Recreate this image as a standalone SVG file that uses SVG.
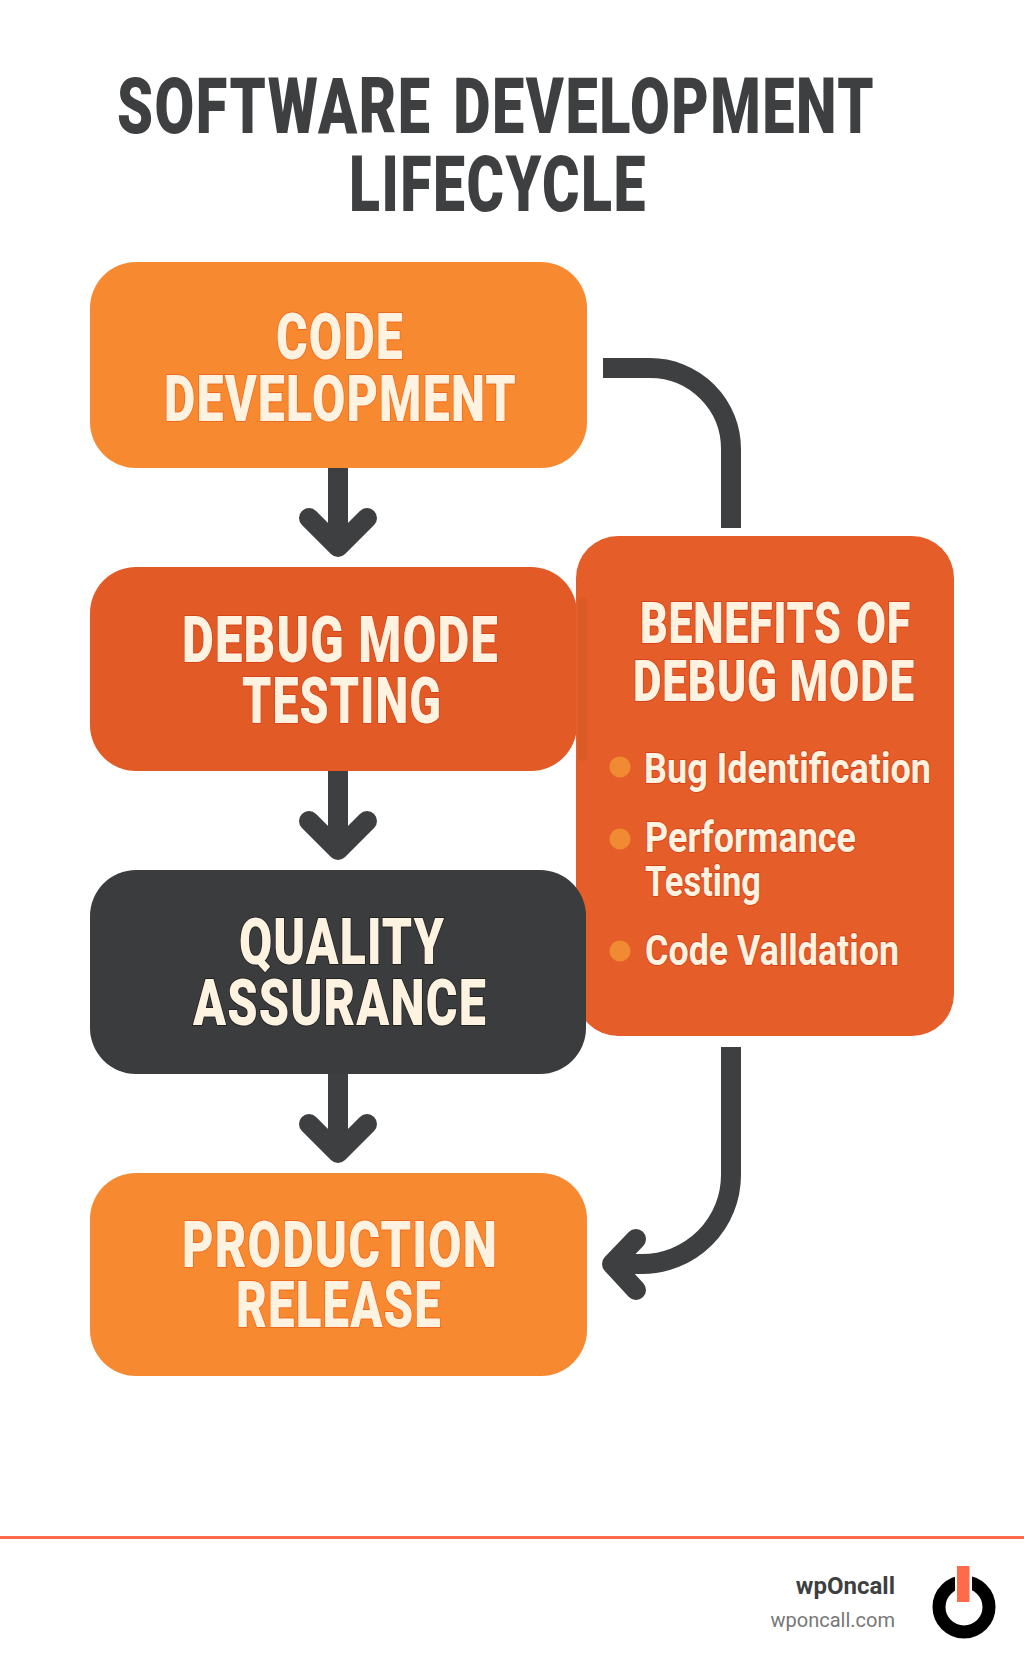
<svg xmlns="http://www.w3.org/2000/svg" width="1024" height="1666" viewBox="0 0 1024 1666">
<style>
text{font-family:"Roboto","Liberation Sans",sans-serif}
.t{font-size:77px;font-weight:900;fill:#3e3f40;letter-spacing:2px}
.h{font-size:64px;font-weight:900;fill:#fdf3e0;stroke-width:2;paint-order:stroke;letter-spacing:1.5px}
.o{stroke:#f2691d}
.r{stroke:#d8431a}
.d{stroke:#222}
.b{font-size:57px;font-weight:900;fill:#fdf3e0;stroke:#d8431a;stroke-width:2;paint-order:stroke;letter-spacing:1px}
.l{font-size:43px;font-weight:700;fill:#fdf3e0;stroke:#d8431a;stroke-width:2;paint-order:stroke}
.c{fill:none;stroke:#3e3f40;stroke-width:20}
.a{stroke-linecap:round;stroke-linejoin:round}
.dot{fill:#f08a33}
</style>
<rect width="1024" height="1666" fill="#fff"/>
<g id="title">
<text class="t" x="117" y="133" textLength="758" lengthAdjust="spacingAndGlyphs" word-spacing="8">SOFTWARE DEVELOPMENT</text>
<text class="t" x="349" y="211" textLength="298" lengthAdjust="spacingAndGlyphs">LIFECYCLE</text>
</g>
<g id="connectors">
<path class="c" d="M338 467V540"/><path class="c a" d="M309 518L338 547L367 518"/>
<path class="c" d="M338 770V843"/><path class="c a" d="M309 821L338 850L367 821"/>
<path class="c" d="M338 1073V1146"/><path class="c a" d="M309 1124L338 1153L367 1124"/>
<path class="c" d="M603 368H650A81 81 0 0 1 731 449V528"/>
<path class="c" d="M731 1047V1175A89 89 0 0 1 642 1264H616"/><path class="c a" d="M636 1239L612 1264L636 1290"/>
</g>
<g id="code-development">
<rect x="90" y="262" width="497" height="206" rx="46" fill="#f78a31"/>
<text class="h o" x="276" y="359" textLength="128" lengthAdjust="spacingAndGlyphs">CODE</text>
<text class="h o" x="164" y="421" textLength="353" lengthAdjust="spacingAndGlyphs">DEVELOPMENT</text>
</g>
<g id="debug-mode-testing">
<rect x="90" y="567" width="487" height="204" rx="46" fill="#e25b27"/>
<text class="h r" x="182" y="662" textLength="317" lengthAdjust="spacingAndGlyphs">DEBUG MODE</text>
<text class="h r" x="242" y="723" textLength="200" lengthAdjust="spacingAndGlyphs">TESTING</text>
</g>
<g id="benefits">
<rect x="576" y="536" width="378" height="500" rx="42" fill="#e55e2a"/>
<rect x="578" y="597" width="9" height="164" rx="4" fill="#dc5a27"/>
<text class="b" x="640" y="643" textLength="271" lengthAdjust="spacingAndGlyphs" word-spacing="4">BENEFITS OF</text>
<text class="b" x="633" y="701" textLength="282" lengthAdjust="spacingAndGlyphs">DEBUG MODE</text>
<circle class="dot" cx="620" cy="767" r="10.5"/>
<text class="l" x="644" y="783" textLength="287" lengthAdjust="spacingAndGlyphs">Bug Identification</text>
<circle class="dot" cx="620" cy="839" r="10.5"/>
<text class="l" x="645" y="852" textLength="211" lengthAdjust="spacingAndGlyphs">Performance</text>
<text class="l" x="645" y="896" textLength="116" lengthAdjust="spacingAndGlyphs">Testing</text>
<circle class="dot" cx="620" cy="951" r="10.5"/>
<text class="l" x="645" y="965" textLength="254" lengthAdjust="spacingAndGlyphs">Code Valldation</text>
</g>
<g id="quality-assurance">
<rect x="90" y="870" width="496" height="204" rx="46" fill="#3a3c3e"/>
<text class="h d" x="239" y="964" textLength="206" lengthAdjust="spacingAndGlyphs">QUALITY</text>
<text class="h d" x="193" y="1025" textLength="294" lengthAdjust="spacingAndGlyphs">ASSURANCE</text>
</g>
<g id="production-release">
<rect x="90" y="1173" width="497" height="203" rx="46" fill="#f78a31"/>
<text class="h o" x="182" y="1267" textLength="316" lengthAdjust="spacingAndGlyphs">PRODUCTION</text>
<text class="h o" x="236" y="1327" textLength="206" lengthAdjust="spacingAndGlyphs">RELEASE</text>
</g>
<g id="footer">
<rect x="0" y="1536" width="1024" height="3" fill="#ff6b4a"/>
<text x="895" y="1594" text-anchor="end" font-size="24" font-weight="700" fill="#3e3f40">wpOncall</text>
<text x="895" y="1627" text-anchor="end" font-size="20" fill="#777">wponcall.com</text>
<circle cx="964" cy="1607" r="25" fill="none" stroke="#000" stroke-width="13"/>
<rect x="955" y="1566" width="17" height="38" fill="#fff"/>
<rect x="957" y="1566" width="12.5" height="36" fill="#ff6b4a"/>
</g>
</svg>
